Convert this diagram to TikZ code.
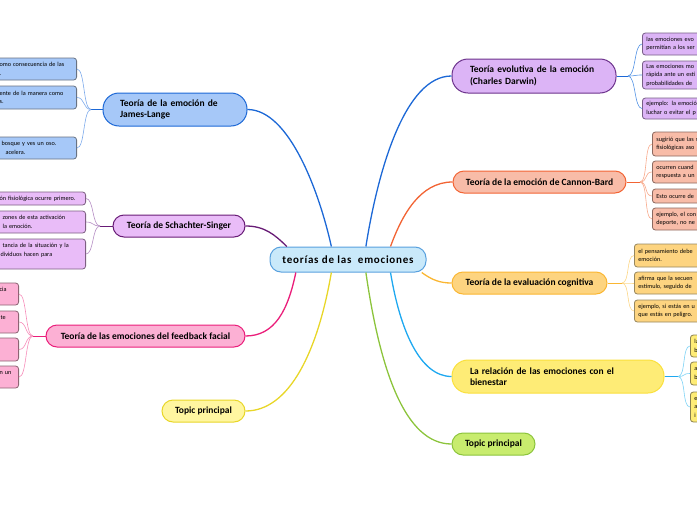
\documentclass[tikz,border=0pt]{standalone}
\usepackage{fontspec}
\setmainfont{Carlito}
\definecolor{rootblue}{RGB}{201,233,250}
\definecolor{rootline}{RGB}{88,160,222}
\definecolor{branchblue}{RGB}{28,104,214}
\definecolor{jamesblue}{RGB}{166,200,248}
\definecolor{jamesleaf}{RGB}{104,114,130}
\definecolor{jamestwig}{RGB}{125,170,235}
\definecolor{schachpurple}{RGB}{233,188,248}
\definecolor{schachline}{RGB}{104,28,118}
\definecolor{schachleaf}{RGB}{125,95,130}
\definecolor{schachtwig}{RGB}{180,140,195}
\definecolor{facepink}{RGB}{252,176,212}
\definecolor{faceline}{RGB}{234,30,122}
\definecolor{faceleaf}{RGB}{140,100,115}
\definecolor{facetwig}{RGB}{246,140,185}
\definecolor{topicyellow}{RGB}{255,246,160}
\definecolor{topicline}{RGB}{232,214,40}
\definecolor{darwinlilac}{RGB}{220,180,246}
\definecolor{darwinline}{RGB}{108,50,140}
\definecolor{darwinleaf}{RGB}{120,95,135}
\definecolor{darwintwig}{RGB}{80,145,228}
\definecolor{cannonsalmon}{RGB}{248,188,168}
\definecolor{cannonline}{RGB}{242,100,52}
\definecolor{cannonleaf}{RGB}{140,105,95}
\definecolor{cannontwig}{RGB}{248,170,140}
\definecolor{evalorange}{RGB}{253,212,128}
\definecolor{evalline}{RGB}{250,182,50}
\definecolor{evalleaf}{RGB}{150,135,95}
\definecolor{evaltwig}{RGB}{252,215,135}
\definecolor{wellyellow}{RGB}{254,236,118}
\definecolor{wellline}{RGB}{250,224,60}
\definecolor{wellleaf}{RGB}{140,130,80}
\definecolor{wellblue}{RGB}{30,168,240}
\definecolor{welltwig}{RGB}{125,210,245}
\definecolor{greenlime}{RGB}{200,236,110}
\definecolor{greenline}{RGB}{140,196,60}

\begin{document}
\begin{tikzpicture}[x=1pt, y=-1pt,
  topic/.style={rectangle, rounded corners=11pt, line width=1pt, inner sep=0pt, font=\bfseries\fontsize{9.5}{11.5}\selectfont},
  leaf/.style={rectangle, rounded corners=3pt, line width=0.8pt, inner xsep=4pt, inner ysep=1pt, align=left, font=\fontsize{6.2}{8.5}\selectfont},
  stem/.style={line width=1.3pt},
  twig/.style={line width=0.6pt}]
\useasboundingbox (0,0) rectangle (697,520);
\clip (0,0) rectangle (697,520);

% centre
\node[topic, fill=rootblue, draw=rootline, minimum width=156, minimum height=25, font=\bfseries\fontsize{11}{13}\selectfont\addfontfeature{LetterSpace=7}] (root) at (348,259.5) {teorías de las~ emociones};

% left side
\node[topic, fill=jamesblue, draw=branchblue, rounded corners=16pt, minimum width=144, minimum height=33, align=left, text width=110] (jl) at (175,109.5) {Teoría de la emoción de\\James-Lange};
\node[leaf, fill=jamesblue, draw=jamesleaf, anchor=east, text width=73, minimum height=22] (jla) at (77,69) {omo consecuencia de las\\.};
\node[leaf, fill=jamesblue, draw=jamesleaf, anchor=east, text width=73, minimum height=23] (jlb) at (77,97.5) {ente de la manera como\\s.};
\node[leaf, fill=jamesblue, draw=jamesleaf, anchor=east, text width=73, minimum height=22] (jlc) at (77,148) {\hspace*{2pt}bosque y ves un oso.\\\hspace*{6pt}acelera.};

\node[topic, fill=schachpurple, draw=schachline, minimum width=132, minimum height=22] (ss) at (179,226) {Teoría de Schachter-Singer};
\node[leaf, fill=schachpurple, draw=schachleaf, anchor=east, text width=82, minimum height=13] (ssa) at (86,198.5) {ón fisiológica ocurre primero.};
\node[leaf, fill=schachpurple, draw=schachleaf, anchor=east, text width=82, minimum height=22] (ssb) at (86,222) {\hspace*{3pt}zones de esta activación\\\hspace*{3pt}la emoción.};
\node[leaf, fill=schachpurple, draw=schachleaf, anchor=east, text width=82, minimum height=30] (ssc) at (86,254) {\hspace*{3pt}tancia de la situación y la\\\hspace*{1pt}dividuos hacen para\\\mbox{}};

\node[topic, fill=facepink, draw=faceline, minimum width=199, minimum height=22] (fb) at (145.5,336) {Teoría de las emociones del feedback facial};
\node[leaf, fill=facepink, draw=faceleaf, anchor=east, text width=15, minimum height=22] (fba) at (19,294) {cia\\\mbox{}};
\node[leaf, fill=facepink, draw=faceleaf, anchor=east, text width=15, minimum height=22] (fbb) at (19,322) {\hspace*{1pt}te\\\mbox{}};
\node[leaf, fill=facepink, draw=faceleaf, anchor=east, text width=15, minimum height=23] (fbc) at (19,349.5) {\mbox{}};
\node[leaf, fill=facepink, draw=faceleaf, anchor=east, text width=15, minimum height=22] (fbd) at (19,377) {n un\\\mbox{}};

\node[topic, fill=topicyellow, draw=topicline, minimum width=83, minimum height=22] (tl) at (203.5,411) {Topic principal};

% right side
\node[topic, fill=darwinlilac, draw=darwinline, rounded corners=16pt, minimum width=164, minimum height=34, align=left, text width=128] (dw) at (534,76) {Teoría evolutiva de la emoción\\(Charles Darwin)};
\node[leaf, fill=darwinlilac, draw=darwinleaf, anchor=west, text width=80, minimum height=22] (dwa) at (642,44) {las emociones evo\\permitían a los ser};
\node[leaf, fill=darwinlilac, draw=darwinleaf, anchor=west, text width=80, minimum height=28] (dwb) at (642,75) {Las emociones mo\\rápida ante un estí\\probabilidades de};
\node[leaf, fill=darwinlilac, draw=darwinleaf, anchor=west, text width=80, minimum height=21] (dwc) at (642,108.5) {ejemplo: la emoció\\luchar o evitar el p};

\node[topic, fill=cannonsalmon, draw=cannonline, minimum width=173, minimum height=22] (cb) at (539.5,182) {Teoría de la emoción de Cannon-Bard};
\node[leaf, fill=cannonsalmon, draw=cannonleaf, anchor=west, text width=80, minimum height=24] (cba) at (652,144) {sugirió que las s\\fisiológicas aso};
\node[leaf, fill=cannonsalmon, draw=cannonleaf, anchor=west, text width=80, minimum height=22] (cbb) at (652,172) {ocurren cuand\\respuesta a un};
\node[leaf, fill=cannonsalmon, draw=cannonleaf, anchor=west, text width=80, minimum height=14] (cbc) at (652,196) {Esto ocurre de};
\node[leaf, fill=cannonsalmon, draw=cannonleaf, anchor=west, text width=80, minimum height=22] (cbd) at (652,219) {ejemplo, el con\\deporte, no ne};

\node[topic, fill=evalorange, draw=evalline, minimum width=155, minimum height=22] (ev) at (529.5,283) {Teoría de la evaluación cognitiva};
\node[leaf, fill=evalorange, draw=evalleaf, anchor=west, text width=80, minimum height=23] (eva) at (634,255.5) {el pensamiento debe\\emoción.};
\node[leaf, fill=evalorange, draw=evalleaf, anchor=west, text width=80, minimum height=22] (evb) at (634,283) {afirma que la secuen\\estímulo, seguido de};
\node[leaf, fill=evalorange, draw=evalleaf, anchor=west, text width=80, minimum height=22] (evc) at (634,311) {ejemplo, si estás en u\\que estás en peligro.};

\node[topic, fill=wellyellow, draw=wellline, rounded corners=16pt, minimum width=212, minimum height=33, align=left, text width=176] (bn) at (558,376.5) {La relación de las emociones con el\\bienestar};
\node[leaf, fill=wellyellow, draw=wellleaf, anchor=west, text width=80, minimum height=22] (bna) at (690,346) {la\\b};
\node[leaf, fill=wellyellow, draw=wellleaf, anchor=west, text width=80, minimum height=23] (bnb) at (690,373.5) {a\\b};
\node[leaf, fill=wellyellow, draw=wellleaf, anchor=west, text width=80, minimum height=30] (bnc) at (690,407) {e\\a\\i};

\node[topic, fill=greenlime, draw=greenline, minimum width=83, minimum height=22] (tr) at (493.5,444) {Topic principal};

% stems
\draw[stem, branchblue] (root.142) .. controls (320,195) and (290,109.5) .. (jl.east);
\draw[stem, schachline] (root.168) .. controls (275,235) and (265,226) .. (ss.east);
\draw[stem, faceline] (root.194) .. controls (288,310) and (275,336) .. (fb.east);
\draw[stem, topicline] (root.218) .. controls (318,350) and (290,411) .. (tl.east);
\draw[stem, branchblue] (root.36) .. controls (378,170) and (405,76) .. (dw.west);
\draw[stem, cannonline] (root.17) .. controls (402,215) and (420,182) .. (cb.west);
\draw[stem, evalline] (root.350) .. controls (432,280) and (440,283) .. (ev.west);
\draw[stem, wellblue] (root.343) .. controls (400,330) and (420,376.5) .. (bn.west);
\draw[stem, greenline] (root.324) .. controls (380,370) and (405,444) .. (tr.west);

% twigs
\coordinate (jlj) at (91,109.5);
\coordinate (ssj) at (100,226);
\coordinate (fbj) at (33,336);
\coordinate (dwj) at (628,76);
\coordinate (cbj) at (640,182);
\coordinate (evj) at (622,283);
\coordinate (bnj) at (678,376.5);

\draw[twig, branchblue] (jl.west) -- (jlj);
\draw[twig, jamestwig] (jlj) .. controls +(-8,0) and +(8,0) .. (jla.east);
\draw[twig, jamestwig] (jlj) .. controls +(-8,0) and +(8,0) .. (jlb.east);
\draw[twig, jamestwig] (jlj) .. controls +(-8,0) and +(8,0) .. (jlc.east);

\draw[twig, schachline] (ss.west) -- (ssj);
\draw[twig, schachtwig] (ssj) .. controls +(-8,0) and +(8,0) .. (ssa.east);
\draw[twig, schachtwig] (ssj) .. controls +(-8,0) and +(8,0) .. (ssb.east);
\draw[twig, schachtwig] (ssj) .. controls +(-8,0) and +(8,0) .. (ssc.east);

\draw[twig, faceline] (fb.west) -- (fbj);
\draw[twig, facetwig] (fbj) .. controls +(-8,0) and +(8,0) .. (fba.east);
\draw[twig, facetwig] (fbj) .. controls +(-8,0) and +(8,0) .. (fbb.east);
\draw[twig, facetwig] (fbj) .. controls +(-8,0) and +(8,0) .. (fbc.east);
\draw[twig, facetwig] (fbj) .. controls +(-8,0) and +(8,0) .. (fbd.east);

\draw[twig, branchblue] (dw.east) -- (dwj);
\draw[twig, darwintwig] (dwj) .. controls +(8,0) and +(-8,0) .. (dwa.west);
\draw[twig, darwintwig] (dwj) .. controls +(8,0) and +(-8,0) .. (dwb.west);
\draw[twig, darwintwig] (dwj) .. controls +(8,0) and +(-8,0) .. (dwc.west);

\draw[twig, cannonline] (cb.east) -- (cbj);
\draw[twig, cannontwig] (cbj) .. controls +(8,0) and +(-8,0) .. (cba.west);
\draw[twig, cannontwig] (cbj) .. controls +(8,0) and +(-8,0) .. (cbb.west);
\draw[twig, cannontwig] (cbj) .. controls +(8,0) and +(-8,0) .. (cbc.west);
\draw[twig, cannontwig] (cbj) .. controls +(8,0) and +(-8,0) .. (cbd.west);

\draw[twig, evalline] (ev.east) -- (evj);
\draw[twig, evaltwig] (evj) .. controls +(8,0) and +(-8,0) .. (eva.west);
\draw[twig, evaltwig] (evj) .. controls +(8,0) and +(-8,0) .. (evb.west);
\draw[twig, evaltwig] (evj) .. controls +(8,0) and +(-8,0) .. (evc.west);

\draw[twig, wellblue] (bn.east) -- (bnj);
\draw[twig, welltwig] (bnj) .. controls +(8,0) and +(-8,0) .. (bna.west);
\draw[twig, welltwig] (bnj) .. controls +(8,0) and +(-8,0) .. (bnb.west);
\draw[twig, welltwig] (bnj) .. controls +(8,0) and +(-8,0) .. (bnc.west);
\end{tikzpicture}
\end{document}
